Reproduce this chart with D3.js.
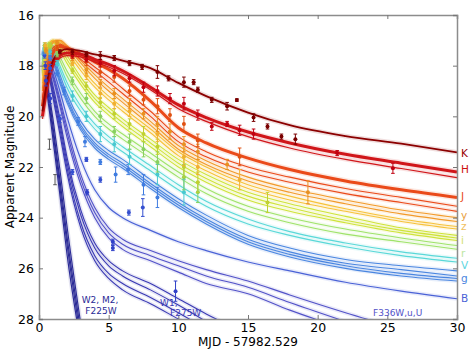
<!DOCTYPE html>
<html><head><meta charset="utf-8">
<script src="https://cdn.jsdelivr.net/npm/d3@7"></script>
<style>body{margin:0;background:#fff}svg{display:block;font-family:"DejaVu Sans",sans-serif}</style>
</head><body><svg id="c" width="474" height="355"></svg>
<script>
// ---------- DATA ----------
const timeGrid = [0.25,0.5,0.75,1,1.5,2,3,4,5,6,8,10,12,15,18,22,26,30];
const xTicks = [0,5,10,15,20,25,30];
const yTicks = [16,18,20,22,24,26,28];

const magK   = [19.8,18.9,18.2,17.8,17.45,17.35,17.42,17.55,17.65,17.8,18.1,18.68,19.2,19.85,20.35,20.78,21.08,21.42];
const magH1  = [20.0,19.1,18.4,17.95,17.6,17.5,17.55,17.75,17.95,18.2,18.85,19.55,20.05,20.62,21.05,21.5,21.85,22.2];
const magH2  = [20.1,19.2,18.5,18.05,17.7,17.6,17.65,17.85,18.05,18.3,18.95,19.7,20.2,20.8,21.25,21.7,22.06,22.42];
const magJ1  = [19.6,18.6,17.9,17.5,17.25,17.3,17.55,17.85,18.15,18.5,19.4,20.45,21.05,21.65,22.1,22.55,22.9,23.2];
const magJ2  = [19.4,18.4,17.75,17.4,17.2,17.3,17.65,18.05,18.45,18.9,19.8,20.8,21.4,22.0,22.4,22.85,23.2,23.55];
const magJ3  = [19.3,18.3,17.65,17.3,17.15,17.3,17.75,18.2,18.65,19.1,20.0,21.0,21.6,22.2,22.6,23.05,23.4,23.75];
const magY1  = [19.0,18.0,17.4,17.1,17.0,17.2,17.8,18.35,18.85,19.3,20.2,21.15,21.75,22.4,22.85,23.3,23.7,24.0];
const magY2  = [18.9,17.9,17.3,17.05,17.0,17.25,17.9,18.5,19.0,19.45,20.35,21.3,21.9,22.55,23.0,23.45,23.85,24.15];
const magZ1  = [18.7,17.7,17.2,17.0,17.05,17.35,18.05,18.7,19.2,19.65,20.5,21.4,22.0,22.7,23.15,23.65,24.05,24.35];
const magZ2  = [18.6,17.6,17.15,17.0,17.1,17.45,18.2,18.85,19.35,19.8,20.65,21.55,22.15,22.85,23.3,23.75,24.15,24.45];
const magI1  = [18.4,17.5,17.1,17.0,17.2,17.6,18.45,19.15,19.65,20.1,20.9,21.7,22.3,23.0,23.45,23.95,24.4,24.7];
const magI2  = [18.3,17.45,17.1,17.05,17.3,17.75,18.6,19.3,19.8,20.25,21.05,21.85,22.45,23.15,23.6,24.1,24.5,24.8];
const magI3  = [18.2,17.4,17.1,17.1,17.4,17.9,18.75,19.45,19.95,20.4,21.2,22.0,22.6,23.3,23.75,24.2,24.6,24.9];
const magR1  = [18.0,17.3,17.1,17.2,17.65,18.2,19.1,19.8,20.3,20.7,21.45,22.2,22.85,23.55,24.0,24.45,24.8,25.1];
const magR2  = [17.9,17.25,17.1,17.25,17.8,18.4,19.3,20.0,20.5,20.9,21.65,22.4,23.05,23.75,24.2,24.65,24.95,25.25];
const magV1  = [17.8,17.2,17.15,17.35,18.0,18.65,19.6,20.3,20.8,21.2,21.95,22.7,23.35,24.05,24.55,25.0,25.35,25.6];
const magV2  = [17.75,17.2,17.2,17.45,18.15,18.85,19.8,20.5,21.0,21.4,22.15,22.9,23.55,24.25,24.7,25.15,25.5,25.75];
const magG1  = [17.6,17.2,17.25,17.55,18.35,19.1,20.2,20.9,21.35,21.7,22.5,23.25,23.9,24.7,25.2,25.65,25.9,26.1];
const magG2  = [17.6,17.2,17.3,17.65,18.5,19.25,20.35,21.05,21.5,21.85,22.65,23.4,24.05,24.85,25.35,25.8,26.05,26.3];
const magG3  = [17.6,17.25,17.35,17.7,18.6,19.35,20.45,21.15,21.6,21.95,22.75,23.5,24.15,24.95,25.45,25.9,26.2,26.4];
const magG4  = [17.6,17.25,17.4,17.8,18.7,19.45,20.55,21.25,21.7,22.05,22.85,23.6,24.25,25.05,25.55,26.0,26.3,26.5];
const magB   = [17.6,17.5,17.7,18.1,19.0,20.0,21.7,22.9,23.6,24.0,24.5,24.95,25.3,25.75,26.1,26.55,26.9,27.2];
const magU1  = [17.6,17.6,17.85,18.3,19.3,20.4,22.3,23.6,24.4,24.85,25.3,25.7,26.05,26.5,27.05,27.75,28.4,null];
const magU2  = [17.6,17.65,17.95,18.4,19.45,20.6,22.5,23.8,24.6,25.05,25.5,25.9,26.3,26.75,27.35,28.1,null,null];
const magU3  = [17.6,17.7,18.05,18.5,19.6,20.8,22.7,24.0,24.8,25.25,25.7,26.15,26.6,27.0,27.65,28.4,null,null];
const magW1a = [17.7,17.8,18.2,18.8,20.1,21.6,23.7,25.0,25.7,26.1,26.6,27.2,27.8,28.6,null,null,null,null];
const magW1b = [17.7,17.85,18.3,18.95,20.3,21.8,23.9,25.2,25.9,26.3,26.85,27.45,28.1,null,null,null,null,null];
const magW1c = [17.75,17.9,18.4,19.1,20.5,22.0,24.2,25.5,26.2,26.6,27.15,27.75,28.4,null,null,null,null,null];
const magW1d = [17.8,18.0,18.5,19.25,20.7,22.2,24.4,25.7,26.4,26.85,27.4,28.0,28.6,null,null,null,null,null];
const magW2a = [17.9,18.5,19.4,20.4,22.5,24.7,28.5,null,null,null,null,null,null,null,null,null,null,null];
const magW2b = [18.0,18.6,19.6,20.6,22.8,25.0,28.8,null,null,null,null,null,null,null,null,null,null,null];
const magW2c = [17.85,18.4,19.2,20.1,22.1,24.3,28.2,null,null,null,null,null,null,null,null,null,null,null];
const magW2d = [18.1,18.8,19.8,20.9,23.1,25.4,29.0,null,null,null,null,null,null,null,null,null,null,null];

// observed points: [time, magnitude, error]
const ptsK = [[1.5,17.45,0.08],[2.4,17.45,0.1],[3.4,17.55,0.1],[4.4,17.6,0.15],[5.4,17.7,0.1],[6.5,17.9,0.1],[7.4,18.05,0.1],[8.5,18.25,0.25],[9.3,18.5,0.1],[10.4,18.65,0.2],[11.1,18.65,0.1],[11.4,18.95,0.1],[12.4,19.35,0.1],[13.5,19.6,0.15],[14.2,19.36,0.05],[15.4,20.05,0.15],[16.4,20.4,0.1],[17.4,20.8,0.1],[18.4,20.9,0.2]];
const ptsH = [[2.4,17.6,0.1],[3.4,17.75,0.1],[4.4,17.9,0.15],[5.4,18.2,0.2],[6.5,18.5,0.15],[7.5,18.85,0.2],[8.5,19.0,0.2],[9.4,19.3,0.2],[10.4,19.5,0.25],[11.4,19.95,0.2],[12.4,20.4,0.15],[13.5,20.3,0.1],[14.4,20.55,0.2],[15.4,20.7,0.2],[21.4,21.45,0.1],[25.4,22.05,0.2]];
const ptsJ = [[1.3,17.3,0.1],[2.4,17.55,0.15],[3.4,17.85,0.15],[4.4,18.25,0.2],[5.4,18.45,0.2],[6.5,19.0,0.2],[7.5,19.35,0.2],[8.5,19.6,0.3],[9.4,19.95,0.25],[10.4,20.3,0.3],[11.4,20.95,0.25],[14.4,21.6,0.35]];
const ptsY = [[0.5,17.4,0.1],[1.3,17.1,0.1],[2.4,17.7,0.1],[3.4,18.15,0.15],[4.4,18.7,0.15],[5.4,19.1,0.2],[6.5,19.5,0.2],[7.5,19.9,0.2],[8.5,20.3,0.3],[9.4,20.6,0.3],[10.4,21.1,0.3],[11.4,21.4,0.3],[13.5,21.9,0.2],[19.3,23.0,0.45]];
const ptsZ = [[0.45,17.2,0.1],[1.3,17.1,0.1],[2.4,17.9,0.1],[3.4,18.4,0.15],[4.4,19.1,0.2],[5.4,19.5,0.2],[6.5,19.8,0.2],[8.5,20.7,0.3],[10.4,21.6,0.35],[11.4,22.0,0.3],[14.4,22.5,0.4]];
const ptsI = [[0.45,17.35,0.1],[0.8,17.2,0.1],[1.3,17.3,0.1],[2.4,18.2,0.1],[3.4,18.8,0.15],[4.4,19.45,0.2],[5.4,19.9,0.2],[6.5,20.3,0.2],[7.5,20.7,0.3],[8.5,21.2,0.3],[10.4,22.0,0.4],[11.4,22.6,0.4],[16.4,23.4,0.4]];
const ptsR = [[0.4,17.2,0.1],[0.8,17.25,0.1],[1.3,17.55,0.1],[2.4,18.6,0.15],[3.4,19.3,0.2],[4.4,20.0,0.2],[5.4,20.6,0.2],[6.5,21.0,0.3],[7.5,21.3,0.3],[8.5,21.8,0.4],[10.4,22.4,0.5],[11.4,23.0,0.4]];
const ptsV = [[0.4,17.3,0.1],[0.8,17.45,0.1],[1.3,17.9,0.1],[2.4,19.2,0.2],[3.4,20.0,0.2],[4.4,20.7,0.3],[5.4,21.1,0.3],[6.5,21.6,0.3],[8.5,22.3,0.4],[10.4,23.0,0.5]];
const ptsG = [[0.4,17.45,0.1],[0.8,17.7,0.1],[1.3,18.3,0.1],[1.8,19.0,0.15],[2.8,20.2,0.15],[3.3,21.0,0.2],[4.4,21.8,0.1],[5.5,22.3,0.3],[6.4,22.1,0.2],[7.5,22.7,0.4],[8.5,23.2,0.4]];
const ptsB = [[0.4,17.6,0.1],[0.8,18.1,0.15],[1.5,20.1,0.15],[2.4,22.2,0.1],[3.4,21.7,0.08],[4.4,22.5,0.1],[6.45,23.8,0.1],[7.45,23.6,0.35]];
const ptsU = [[0.45,18.0,0.15],[0.5,18.6,0.2],[0.8,19.3,0.2],[3.45,23.0,0.1],[5.3,24.95,0.1],[5.3,25.2,0.1],[9.8,26.9,0.4]];
const ptsW = [[0.75,21.1,0.2],[1.15,22.5,0.2]];

const bandLabels = ["K","H","J","y","z","i","r","V","g","B"];
const bandLabelMag = [21.45,22.1,23.17,23.92,24.35,24.9,25.4,25.9,26.4,27.17];

// ---------- STYLE ----------
const lineColor = {K:"#8b0000",H:"#d0161a",J:"#ea4a1a",y:"#f29a2a",z:"#f6c23a",i:"#cfe33a",r:"#9fe36a",V:"#5ad8d8",g:"#4a86e0",B:"#4a62d6",U:"#5252c8",W1:"#3a3ab4",W2:"#2a2a96"};
const ptColor = {K:"#7a0000",H:"#c00010",J:"#e05010",y:"#e89020",z:"#f0b030",i:"#c0d030",r:"#88d060",V:"#48c8d0",g:"#3f7ce0",B:"#3550d0",U:"#3040c8",W:"#555555"};
const labelColor = {K:"#990000",H:"#cc1111",J:"#e84a1a",y:"#e8a040",z:"#f0c060",i:"#d4e070",r:"#bde6a0",V:"#5fd6e0",g:"#4a86e0",B:"#4a62d6"};

const models = [
  ["W2",magW2a,1.1],["W2",magW2b,1.1],["W2",magW2c,1.1],["W2",magW2d,1.1],
  ["W1",magW1a,1.1],["W1",magW1b,1.1],["W1",magW1c,1.1],["W1",magW1d,1.1],
  ["U",magU1,1.1],["U",magU2,1.1],["U",magU3,1.1],
  ["B",magB,1.2],
  ["g",magG1,1.1],["g",magG2,1.1],["g",magG3,1.1],["g",magG4,1.1],
  ["V",magV1,1.1],["V",magV2,1.1],
  ["r",magR1,1.1],["r",magR2,1.1],
  ["i",magI1,1.1],["i",magI2,1.1],["i",magI3,1.1],
  ["z",magZ1,1.1],["z",magZ2,1.1],
  ["y",magY1,1.1],["y",magY2,1.1],
  ["J",magJ2,1.1],["J",magJ3,1.1],["J",magJ1,3],
  ["H",magH2,1.2],["H",magH1,3],
  ["K",magK,1.8]
];
const pointSets = [["W",ptsW],["U",ptsU],["B",ptsB],["g",ptsG],["V",ptsV],["r",ptsR],["i",ptsI],["z",ptsZ],["y",ptsY],["J",ptsJ],["H",ptsH],["K",ptsK]];

// ---------- DRAW ----------
const svg = d3.select("#c");
const x = d3.scaleLinear().domain([0,30]).range([39,457]);
const y = d3.scaleLinear().domain([16,28]).range([15,319]);

svg.append("defs").append("clipPath").attr("id","clip")
  .append("rect").attr("x",39).attr("y",15).attr("width",418).attr("height",304);

const plot = svg.append("g").attr("clip-path","url(#clip)");
const line = d3.line().defined(d=>d[1]!=null).x(d=>x(d[0])).y(d=>y(d[1])).curve(d3.curveMonotoneX);

models.forEach(([band,mags,w])=>{
  const data = timeGrid.map((t,i)=>[t,mags[i]]);
  plot.append("path").attr("d",line(data)).attr("fill","none")
    .attr("stroke",lineColor[band]).attr("stroke-opacity",0.13).attr("stroke-width",w+3);
  plot.append("path").attr("d",line(data)).attr("fill","none")
    .attr("stroke",lineColor[band]).attr("stroke-width",w);
});

pointSets.forEach(([band,pts])=>{
  const c = ptColor[band];
  const g = plot.append("g");
  pts.forEach(([t,m,e])=>{
    const px=x(t), y0=y(m-e), y1=y(m+e);
    g.append("line").attr("x1",px).attr("x2",px).attr("y1",y0).attr("y2",y1).attr("stroke",c).attr("stroke-width",1);
    g.append("line").attr("x1",px-1.8).attr("x2",px+1.8).attr("y1",y0).attr("y2",y0).attr("stroke",c).attr("stroke-width",1);
    g.append("line").attr("x1",px-1.8).attr("x2",px+1.8).attr("y1",y1).attr("y2",y1).attr("stroke",c).attr("stroke-width",1);
    if(band!=="W") g.append("circle").attr("cx",px).attr("cy",y(m)).attr("r",2).attr("fill",c);
  });
});

// axes
const frame = "#8c8c8c";
const fmt = d3.format("d");
const axB = svg.append("g").attr("transform","translate(0,319)")
  .call(d3.axisBottom(x).tickValues(xTicks).tickSize(-4).tickPadding(4).tickFormat(fmt));
const axT = svg.append("g").attr("transform","translate(0,15)")
  .call(d3.axisTop(x).tickValues(xTicks).tickSize(-4).tickFormat(""));
const axL = svg.append("g").attr("transform","translate(39,0)")
  .call(d3.axisLeft(y).tickValues(yTicks).tickSize(-4).tickPadding(5).tickFormat(fmt));
const axR = svg.append("g").attr("transform","translate(457,0)")
  .call(d3.axisRight(y).tickValues(yTicks).tickSize(-4).tickFormat(""));
[axB,axT,axL,axR].forEach(a=>{
  a.select(".domain").attr("stroke",frame).attr("stroke-width",1.5);
  a.selectAll(".tick line").attr("stroke","#777");
  a.selectAll("text").attr("font-size",12.5).attr("fill","#000").attr("font-family","DejaVu Sans");
});

svg.append("text").attr("x",248).attr("y",346).attr("text-anchor","middle")
  .attr("font-size",12).text("MJD - 57982.529");
svg.append("text").attr("transform","translate(14,167) rotate(-90)").attr("text-anchor","middle")
  .attr("font-size",12).text("Apparent Magnitude");

// band labels
bandLabels.forEach((b,i)=>{
  svg.append("text").attr("x",461).attr("y",y(bandLabelMag[i])).attr("dy","0.35em")
    .attr("font-size",10.5).attr("fill",labelColor[b]).text(b);
});

// UV group annotations
const ann = [["W2, M2,",100,303,"middle","#2a2a96"],["F225W",101,314,"middle","#2a2a96"],
             ["W1,",160,306,"start","#3a3ab4"],["F275W",170,316,"start","#3a3ab4"],
             ["F336W,u,U",373,316,"start","#5252c8"]];
ann.forEach(([t,ax,ay,anc,c])=>{
  svg.append("text").attr("x",ax).attr("y",ay).attr("text-anchor",anc)
    .attr("font-size",9).attr("fill",c).text(t);
});
</script></body></html>
